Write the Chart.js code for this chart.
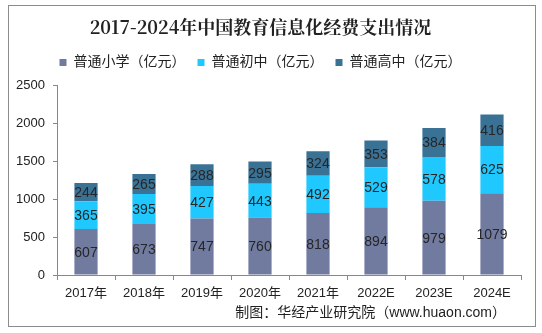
<!DOCTYPE html>
<html><head><meta charset="utf-8">
<script src="https://cdn.jsdelivr.net/npm/chart.js@4/dist/chart.umd.min.js"></script>
<style>html,body{margin:0;padding:0;background:#fff}#c{display:block}</style>
</head><body>
<canvas id="c" width="542" height="333"></canvas>
<script>
const categories = ['2017年','2018年','2019年','2020年','2021年','2022E','2023E','2024E'];
const primary = [607,673,747,760,818,894,979,1079];
const junior = [365,395,427,443,492,529,578,625];
const senior = [244,265,288,295,324,353,384,416];
const seriesNames = ['普通小学（亿元）','普通初中（亿元）','普通高中（亿元）'];
const yTicks = [0,500,1000,1500,2000,2500];
const titleText = '2017-2024年中国教育信息化经费支出情况';
const sourceText = '制图：华经产业研究院（www.huaon.com）';

const FONT = '"Liberation Sans", Arial, "Noto Sans CJK SC", sans-serif';

const decor = {
  id: 'decor',
  beforeDraw(chart){
    const ctx = chart.ctx;
    ctx.save();
    ctx.fillStyle = '#fff';
    ctx.fillRect(0,0,chart.width,chart.height);
    ctx.strokeStyle = '#8c8c8c';
    ctx.lineWidth = 1;
    ctx.strokeRect(8.5,5.5,527,321);
    ctx.restore();
  },
  afterDraw(chart){
    const ctx = chart.ctx;
    ctx.save();
    ctx.font = '14px ' + FONT;
    ctx.fillStyle = '#222';
    ctx.textAlign = 'right';
    ctx.textBaseline = 'middle';
    ctx.fillText(sourceText, 506, 313);
    ctx.restore();
  }
};

const barLabels = {
  id: 'barLabels',
  afterDatasetsDraw(chart){
    const ctx = chart.ctx;
    ctx.save();
    ctx.font = '14px ' + FONT;
    ctx.fillStyle = '#262626';
    ctx.textAlign = 'center';
    ctx.textBaseline = 'middle';
    chart.data.datasets.forEach((ds, di) => {
      const meta = chart.getDatasetMeta(di);
      meta.data.forEach((bar, i) => {
        const p = bar.getProps(['x','y','base'], true);
        ctx.fillText(String(ds.data[i]), p.x, (p.y + p.base)/2 + 1);
      });
    });
    ctx.restore();
  }
};

new Chart(document.getElementById('c'), {
  type: 'bar',
  data: {
    labels: categories,
    datasets: [
      {label: seriesNames[0], data: primary, backgroundColor: '#717BA0'},
      {label: seriesNames[1], data: junior, backgroundColor: '#1FC8FE'},
      {label: seriesNames[2], data: senior, backgroundColor: '#3A7296'}
    ]
  },
  options: {
    responsive: false,
    animation: false,
    devicePixelRatio: 1,
    layout: {padding: {left: 0, right: 21, top: 0, bottom: 30}},
    datasets: {bar: {barPercentage: 0.4, categoryPercentage: 1.0}},
    plugins: {
      title: {display: true, text: titleText, color: '#222',
        font: {family: '"Noto Serif CJK SC", "DejaVu Serif", "Noto Sans CJK SC", serif', size: 18, weight: 'bold'},
        padding: {top: 16, bottom: 6}},
      legend: {display: true, position: 'top',
        labels: {color: '#222', font: {family: FONT, size: 14}, boxWidth: 7, boxHeight: 7, padding: 12, useBorderRadius: false}},
      tooltip: {enabled: false}
    },
    scales: {
      x: {stacked: true,
        grid: {display: true, drawOnChartArea: false, drawTicks: true, tickLength: 5, color: '#888', offset: true},
        border: {display: true, color: '#888'},
        ticks: {color: '#222', font: {family: FONT, size: 13}, padding: 6, maxRotation: 0},
        afterFit(s){ s.height = 28; }
      },
      spacer: {position: 'top', display: true, type: 'category',
        grid: {display: false}, border: {display: false}, ticks: {display: false},
        afterFit(s){ s.height = 6; }
      },
      y: {stacked: true, min: 0, max: 2500,
        afterBuildTicks(s){ s.ticks = yTicks.map(v => ({value: v})); },
        grid: {display: true, drawOnChartArea: false, drawTicks: true, tickLength: 4, color: '#888'},
        border: {display: true, color: '#888'},
        ticks: {color: '#222', font: {family: FONT, size: 13}, padding: 8, callback: v => String(v)},
        afterFit(s){ s.width = 57; }
      }
    }
  },
  plugins: [decor, barLabels]
});
</script>
</body></html>
